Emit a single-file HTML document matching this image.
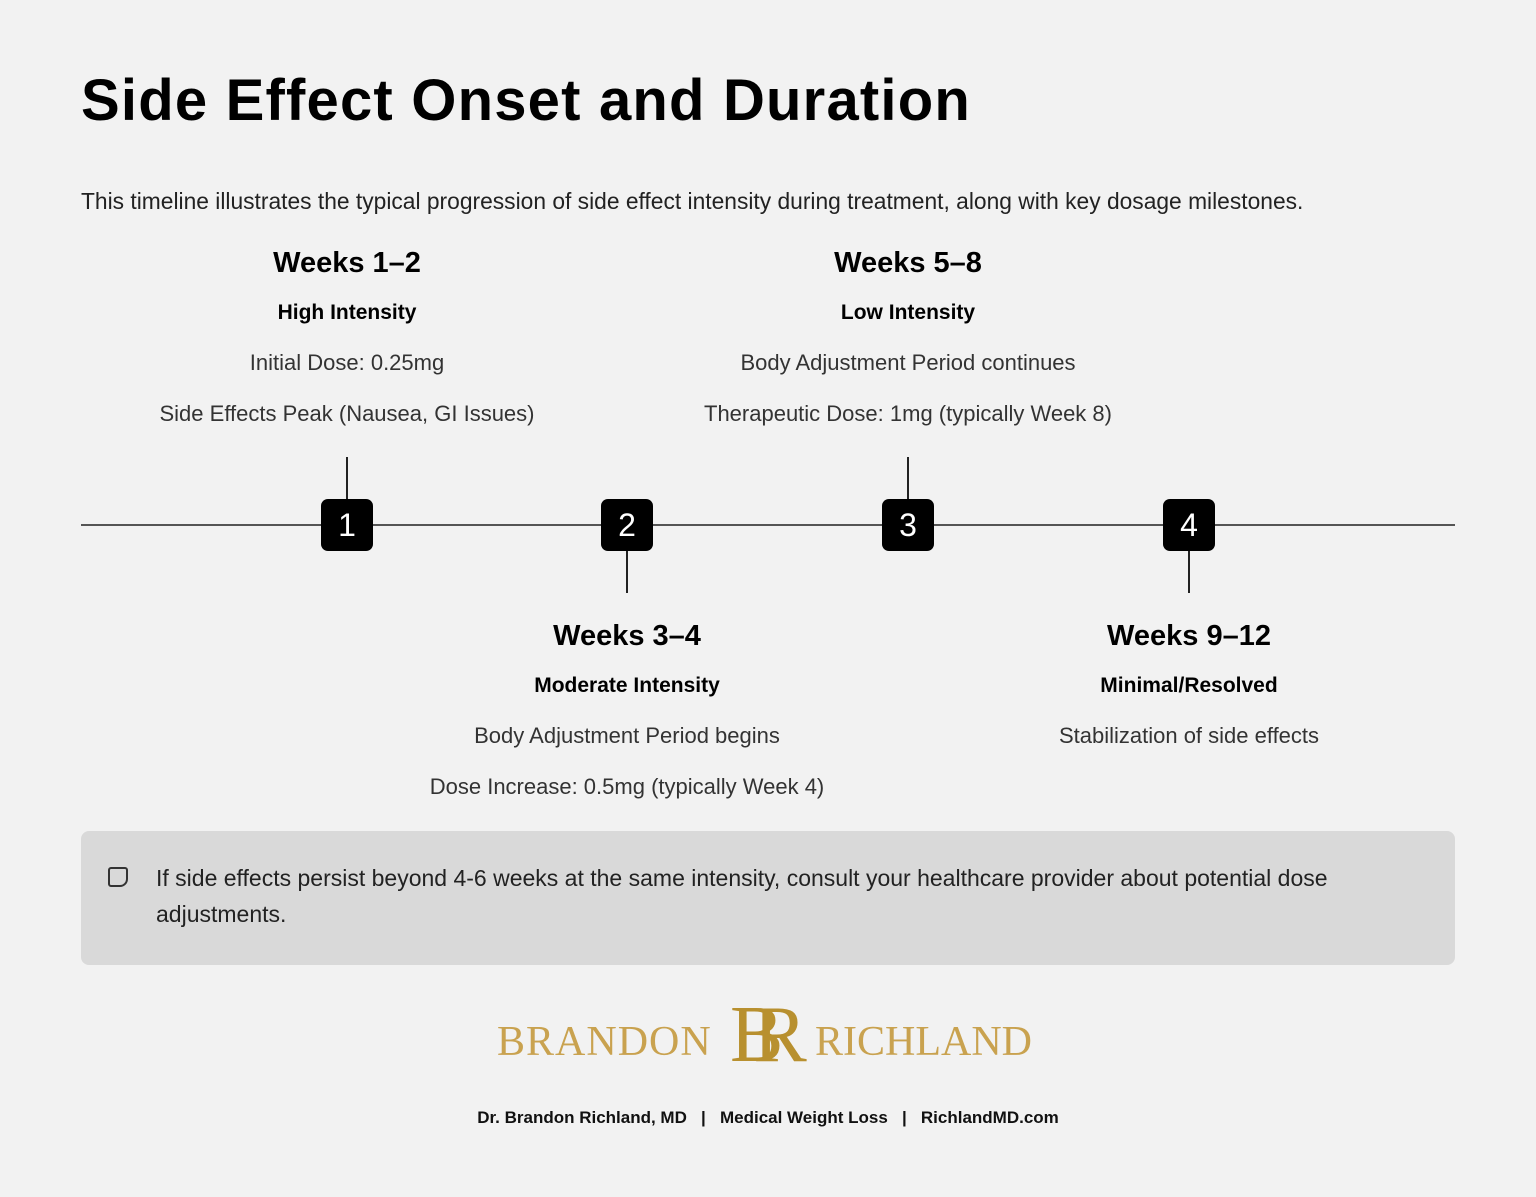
<!DOCTYPE html>
<html><head><meta charset="utf-8"><style>
body{margin:0;width:1536px;height:1197px;background:#f2f2f2;font-family:"Liberation Sans",sans-serif;color:#111;position:relative;overflow:hidden}
.a{position:absolute;white-space:nowrap}
.c{transform:translateX(-50%);text-align:center}
.h{font-weight:bold;font-size:29px;color:#000}
.s{font-weight:bold;font-size:21px;color:#000}
.t{font-size:22px;color:#333}
.box{position:absolute;width:52px;height:52px;background:#000;border-radius:7px;color:#fff;font-size:32px;line-height:52px;text-align:center;top:499px}
.stem{position:absolute;width:2px;background:#222}
</style></head><body>
<div class="a" style="left:81px;top:67px;font-size:58px;font-weight:bold;color:#000;letter-spacing:1.2px">Side Effect Onset and Duration</div>
<div class="a" style="left:81px;top:188px;font-size:22.8px;color:#222">This timeline illustrates the typical progression of side effect intensity during treatment, along with key dosage milestones.</div>

<div class="a" style="left:81px;top:524px;width:1374px;height:2px;background:#555"></div>
<div class="stem" style="left:346px;top:457px;height:42px"></div>
<div class="stem" style="left:626px;top:550px;height:43px"></div>
<div class="stem" style="left:907px;top:457px;height:42px"></div>
<div class="stem" style="left:1188px;top:550px;height:43px"></div>
<div class="box" style="left:321px">1</div>
<div class="box" style="left:601px">2</div>
<div class="box" style="left:882px">3</div>
<div class="box" style="left:1163px">4</div>

<div class="a c h" style="left:347px;top:247px">Weeks 1–2</div>
<div class="a c s" style="left:347px;top:301px">High Intensity</div>
<div class="a c t" style="left:347px;top:350px">Initial Dose: 0.25mg</div>
<div class="a c t" style="left:347px;top:401px">Side Effects Peak (Nausea, GI Issues)</div>

<div class="a c h" style="left:908px;top:247px">Weeks 5–8</div>
<div class="a c s" style="left:908px;top:301px">Low Intensity</div>
<div class="a c t" style="left:908px;top:350px">Body Adjustment Period continues</div>
<div class="a c t" style="left:908px;top:401px">Therapeutic Dose: 1mg (typically Week 8)</div>

<div class="a c h" style="left:627px;top:620px">Weeks 3–4</div>
<div class="a c s" style="left:627px;top:674px">Moderate Intensity</div>
<div class="a c t" style="left:627px;top:723px">Body Adjustment Period begins</div>
<div class="a c t" style="left:627px;top:774px">Dose Increase: 0.5mg (typically Week 4)</div>

<div class="a c h" style="left:1189px;top:620px">Weeks 9–12</div>
<div class="a c s" style="left:1189px;top:674px">Minimal/Resolved</div>
<div class="a c t" style="left:1189px;top:723px">Stabilization of side effects</div>

<div class="a" style="left:81px;top:831px;width:1374px;height:134px;background:#d9d9d9;border-radius:8px"></div>
<div class="a" style="left:108px;top:867px;width:20px;height:20px;border:2px solid #333;border-radius:3px;border-bottom-right-radius:8px;box-sizing:border-box"></div>
<div class="a" style="left:156px;top:860px;font-size:23px;color:#222;line-height:36px;white-space:normal;width:1180px">If side effects persist beyond 4-6 weeks at the same intensity, consult your healthcare provider about potential dose adjustments.</div>

<div class="a" style="left:497px;top:1018px;font-family:'Liberation Serif',serif;font-size:42px;color:#c9a24f;letter-spacing:1px">BRANDON</div>
<div class="a" style="left:730px;top:990px;font-family:'Liberation Serif',serif;font-size:80px;color:#b8902f;letter-spacing:-30px">BR</div>
<div class="a" style="left:815px;top:1018px;font-family:'Liberation Serif',serif;font-size:42px;color:#c9a24f;letter-spacing:0px">RICHLAND</div>
<div class="a c" style="left:768px;top:1108px;font-size:17px;font-weight:bold;color:#111">Dr. Brandon Richland, MD &nbsp; | &nbsp; Medical Weight Loss &nbsp; | &nbsp; RichlandMD.com</div>
</body></html>
